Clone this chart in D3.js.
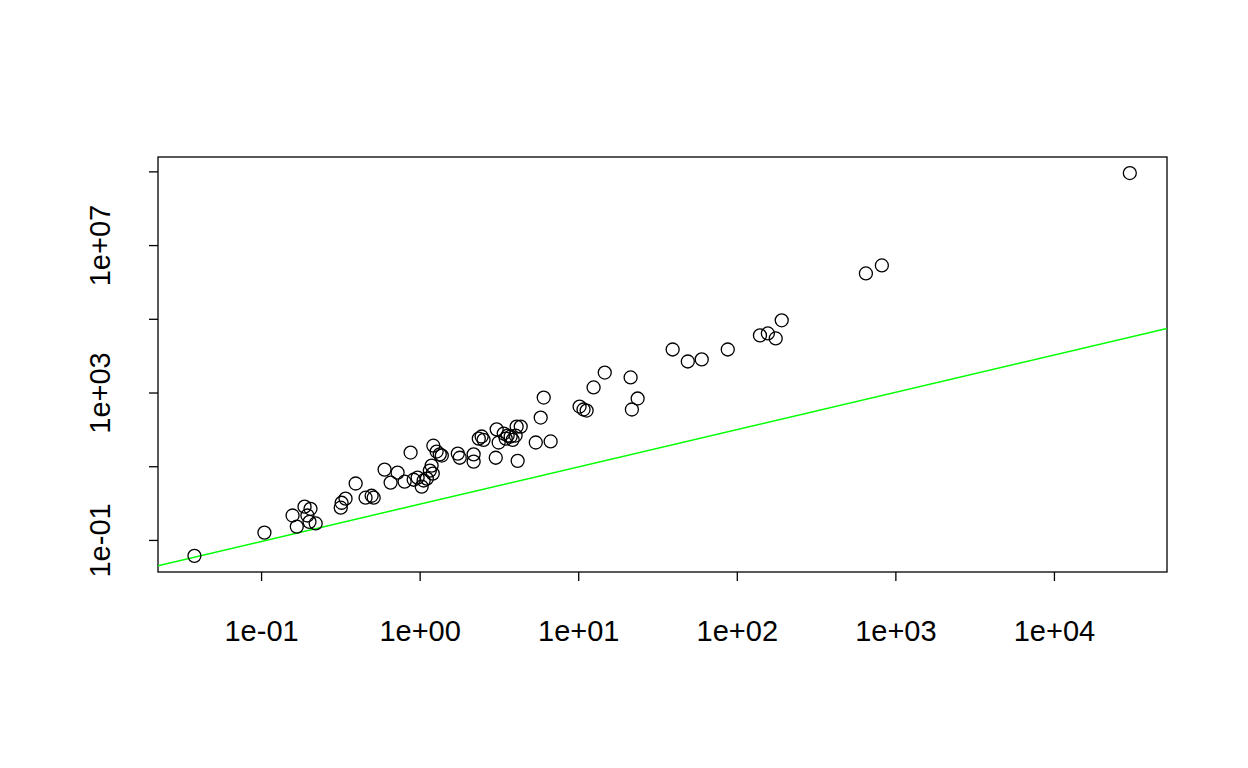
<!DOCTYPE html>
<html><head><meta charset="utf-8">
<script src="https://cdn.jsdelivr.net/npm/d3@7"></script>
<style>body{margin:0;background:#fff}svg{font-family:"Liberation Sans",Arial,sans-serif}</style>
</head><body><svg id="c" width="1248" height="768"></svg>
<script>
const xVals=[0.038,0.105,0.158,0.168,0.188,0.196,0.205,0.202,0.221,0.318,0.322,0.341,0.456,0.498,0.513,0.395,0.601,0.656,0.726,0.804,0.877,0.917,0.971,1.03,1.06,1.11,1.16,1.19,1.21,1.22,1.28,1.34,1.38,1.74,1.79,2.19,2.19,2.36,2.46,2.53,3.02,3.06,3.15,3.39,3.49,3.59,3.75,3.86,4.03,4.09,4.15,4.34,5.4,5.8,6.06,6.7,10.2,10.8,11.3,12.5,14.7,21.4,21.8,23.7,39.4,49.1,60.1,87.7,140,157,176,192,652,822,30100];
const yVals=[0.037,0.158,0.46,0.23,0.80,0.46,0.70,0.31,0.28,0.75,1.02,1.32,1.40,1.58,1.40,3.4,8.1,3.6,6.7,3.8,23.5,4.3,4.9,2.8,4.1,4.6,7.6,10.4,6.3,36,25,21,19.5,22,17,13.3,21,56,64,52,17,100,44,77,56,68,64,52,68,119,14,119,44,209,731,47,416,346,324,1370,3480,2560,346,687,14700,6950,7900,14700,35400,40000,29300,91000,1.7e6,2.8e6,0.9e9];
const xTicks=[1e-1,1e0,1e1,1e2,1e3,1e4];
const xTickLabels=["1e-01","1e+00","1e+01","1e+02","1e+03","1e+04"];
const yTicks=[1e-1,1e1,1e3,1e5,1e7,1e9];
const yTickLabels=["1e-01","","1e+03","","1e+07",""];

const L=158,R=1167,T=157,B=572;
const x=d3.scaleLog().domain([Math.pow(10,-1.65),Math.pow(10,4.713)]).range([L,R]);
const y=d3.scaleLog().domain([Math.pow(10,-1.87),Math.pow(10,9.39)]).range([B,T]);
const svg=d3.select("#c");
svg.append("defs").append("clipPath").attr("id","cl").append("rect").attr("x",L).attr("y",T).attr("width",R-L).attr("height",B-T);
svg.append("rect").attr("x",L).attr("y",T).attr("width",R-L).attr("height",B-T).attr("fill","none").attr("stroke","#000").attr("stroke-width",1.3);
const xa=svg.append("g").attr("transform",`translate(0,${B})`).call(d3.axisBottom(x).tickValues(xTicks).tickSize(9).tickPadding(0).tickFormat((d,i)=>xTickLabels[i]));
const ya=svg.append("g").attr("transform",`translate(${L},0)`).call(d3.axisLeft(y).tickValues(yTicks).tickSize(9).tickFormat((d,i)=>yTickLabels[i]));
[xa,ya].forEach(a=>{a.attr("font-size",null);a.select(".domain").remove();a.selectAll("line").attr("stroke-width",1.3);a.selectAll("text").style("font-size","29px").attr("fill","#000").style("font-family","Liberation Sans, Arial, sans-serif");});
xa.selectAll("text").attr("y",59).attr("dy","0.35em");
ya.selectAll("text").attr("x",null).attr("dy","0.35em")
  .attr("text-anchor","middle").attr("transform","translate(-58,0) rotate(-90)");
svg.append("line").attr("clip-path","url(#cl)")
  .attr("x1",x(Math.pow(10,-1.65))).attr("y1",y(Math.pow(10,-1.70)))
  .attr("x2",x(Math.pow(10,4.713))).attr("y2",y(Math.pow(10,4.74)))
  .attr("stroke","#00ff00").attr("stroke-width",1.5);
svg.append("g").selectAll("circle").data(xVals).join("circle")
  .attr("cx",d=>x(d)).attr("cy",(d,i)=>y(yVals[i])).attr("r",6.5)
  .attr("fill","none").attr("stroke","#000").attr("stroke-width",1.3);
</script></body></html>
